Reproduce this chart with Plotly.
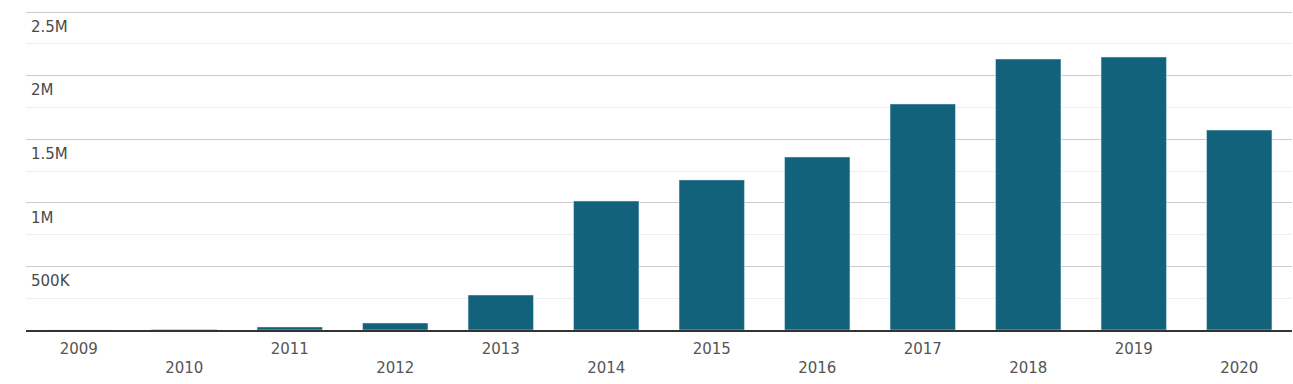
import plotly.graph_objects as go

years = ["2009", "2010", "2011", "2012", "2013", "2014", "2015", "2016", "2017", "2018", "2019", "2020"]
values = [0, 3000, 24000, 55000, 275000, 1014000, 1180000, 1360000, 1777000, 2130000, 2146000, 1572000]
y_tick_vals = [500000, 1000000, 1500000, 2000000, 2500000]
y_tick_text = ["500K", "1M", "1.5M", "2M", "2.5M"]
y_minor_vals = [250000, 750000, 1250000, 1750000, 2250000]

x_tick_text = [y if i % 2 == 0 else "<br>" + y for i, y in enumerate(years)]

fig = go.Figure(go.Bar(x=years, y=values, marker_color="#13627B", width=0.62))

fig.update_layout(
    width=1293, height=384,
    margin=dict(l=26, r=1, t=10, b=54),
    plot_bgcolor="white", paper_bgcolor="white",
    font=dict(family="DejaVu Sans", size=15, color="#4a4a4a"),
    showlegend=False,
)
fig.update_xaxes(
    type="category",
    range=[-0.5, len(years) - 0.5],
    tickvals=years, ticktext=x_tick_text,
    showline=True, linecolor="#333333", linewidth=1.5,
    showgrid=False, ticks="", ticklen=0,
    ticklabelstandoff=4,
    tickfont=dict(size=15, color="#555555"),
)
fig.update_yaxes(
    range=[0, 2500000 * 320 / 318],
    tickmode="array", tickvals=y_tick_vals, ticktext=y_tick_text,
    ticklabelposition="inside bottom",
    ticklabelshift=4, ticklabelstandoff=2,
    showgrid=True, gridcolor="#cccccc", gridwidth=1,
    minor=dict(tickmode="array", tickvals=y_minor_vals, showgrid=True, gridcolor="#eeeeee", gridwidth=1),
    zeroline=False, showline=False,
    tickfont=dict(size=15, color="#4a4a4a"),
)

fig.write_html("out.html")
